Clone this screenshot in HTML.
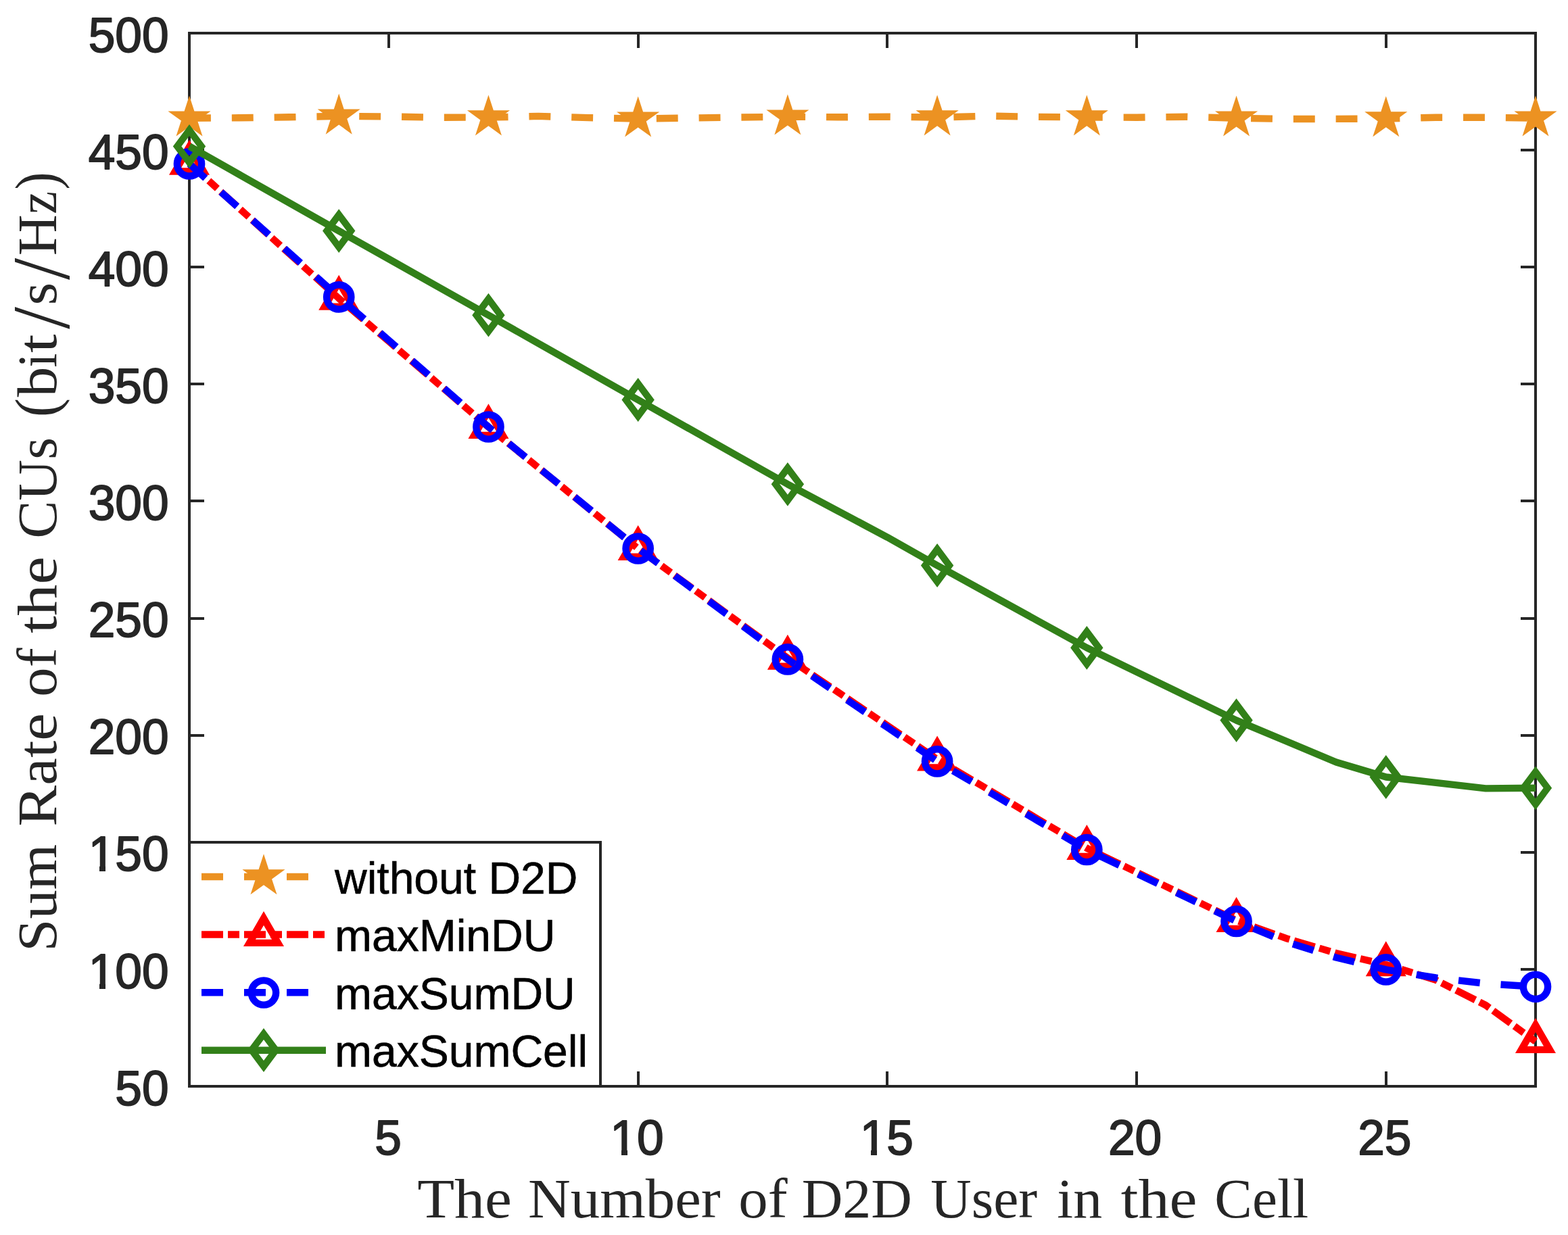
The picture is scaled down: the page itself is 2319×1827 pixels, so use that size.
<!DOCTYPE html>
<html><head><meta charset="utf-8"><title>Sum Rate of the CUs</title>
<style>html,body{margin:0;padding:0;background:#fff;overflow:hidden}svg{display:block}</style>
</head><body>
<svg xmlns="http://www.w3.org/2000/svg" width="2319" height="1827" viewBox="0 0 2319 1827">
<rect x="0" y="0" width="2319" height="1827" fill="#fff"/>
<g stroke="#262626" stroke-width="4" fill="none" stroke-linecap="square">
<rect x="280.0" y="49.0" width="1991.0" height="1558.0" stroke-linecap="butt"/>
<line x1="575.00" y1="1607.0" x2="575.00" y2="1585.0" stroke-linecap="butt"/>
<line x1="575.00" y1="49.0" x2="575.00" y2="71.0" stroke-linecap="butt"/>
<line x1="944.00" y1="1607.0" x2="944.00" y2="1585.0" stroke-linecap="butt"/>
<line x1="944.00" y1="49.0" x2="944.00" y2="71.0" stroke-linecap="butt"/>
<line x1="1312.00" y1="1607.0" x2="1312.00" y2="1585.0" stroke-linecap="butt"/>
<line x1="1312.00" y1="49.0" x2="1312.00" y2="71.0" stroke-linecap="butt"/>
<line x1="1681.00" y1="1607.0" x2="1681.00" y2="1585.0" stroke-linecap="butt"/>
<line x1="1681.00" y1="49.0" x2="1681.00" y2="71.0" stroke-linecap="butt"/>
<line x1="2050.00" y1="1607.0" x2="2050.00" y2="1585.0" stroke-linecap="butt"/>
<line x1="2050.00" y1="49.0" x2="2050.00" y2="71.0" stroke-linecap="butt"/>
<line x1="280.0" y1="1434.00" x2="302.0" y2="1434.00" stroke-linecap="butt"/>
<line x1="2271.0" y1="1434.00" x2="2249.0" y2="1434.00" stroke-linecap="butt"/>
<line x1="280.0" y1="1261.00" x2="302.0" y2="1261.00" stroke-linecap="butt"/>
<line x1="2271.0" y1="1261.00" x2="2249.0" y2="1261.00" stroke-linecap="butt"/>
<line x1="280.0" y1="1088.00" x2="302.0" y2="1088.00" stroke-linecap="butt"/>
<line x1="2271.0" y1="1088.00" x2="2249.0" y2="1088.00" stroke-linecap="butt"/>
<line x1="280.0" y1="915.00" x2="302.0" y2="915.00" stroke-linecap="butt"/>
<line x1="2271.0" y1="915.00" x2="2249.0" y2="915.00" stroke-linecap="butt"/>
<line x1="280.0" y1="741.00" x2="302.0" y2="741.00" stroke-linecap="butt"/>
<line x1="2271.0" y1="741.00" x2="2249.0" y2="741.00" stroke-linecap="butt"/>
<line x1="280.0" y1="568.00" x2="302.0" y2="568.00" stroke-linecap="butt"/>
<line x1="2271.0" y1="568.00" x2="2249.0" y2="568.00" stroke-linecap="butt"/>
<line x1="280.0" y1="395.00" x2="302.0" y2="395.00" stroke-linecap="butt"/>
<line x1="2271.0" y1="395.00" x2="2249.0" y2="395.00" stroke-linecap="butt"/>
<line x1="280.0" y1="222.00" x2="302.0" y2="222.00" stroke-linecap="butt"/>
<line x1="2271.0" y1="222.00" x2="2249.0" y2="222.00" stroke-linecap="butt"/>
</g>
<g font-family="Liberation Sans, Arial, Helvetica, sans-serif" font-size="72.4" fill="#262626" stroke="#262626" stroke-width="1.8" stroke-linejoin="round">
<text transform="translate(249.6,1634.70) scale(0.984,1)" text-anchor="end">50</text>
<text transform="translate(249.6,1461.59) scale(0.984,1)" text-anchor="end">100</text>
<text transform="translate(249.6,1288.48) scale(0.984,1)" text-anchor="end">150</text>
<text transform="translate(249.6,1115.37) scale(0.984,1)" text-anchor="end">200</text>
<text transform="translate(249.6,942.26) scale(0.984,1)" text-anchor="end">250</text>
<text transform="translate(249.6,769.14) scale(0.984,1)" text-anchor="end">300</text>
<text transform="translate(249.6,596.03) scale(0.984,1)" text-anchor="end">350</text>
<text transform="translate(249.6,422.92) scale(0.984,1)" text-anchor="end">400</text>
<text transform="translate(249.6,249.81) scale(0.984,1)" text-anchor="end">450</text>
<text transform="translate(249.6,76.70) scale(0.984,1)" text-anchor="end">500</text>
<text transform="translate(573.96,1708.1) scale(0.984,1)" text-anchor="middle">5</text>
<text transform="translate(941.97,1708.1) scale(0.984,1)" text-anchor="middle">10</text>
<text transform="translate(1311.27,1708.1) scale(0.984,1)" text-anchor="middle">15</text>
<text transform="translate(1678.57,1708.1) scale(0.984,1)" text-anchor="middle">20</text>
<text transform="translate(2047.78,1708.1) scale(0.984,1)" text-anchor="middle">25</text>
</g>
<rect x="134" y="1454" width="13" height="10" fill="#fff"/>
<rect x="156" y="1454" width="13" height="10" fill="#fff"/>
<rect x="134" y="1281" width="13" height="9" fill="#fff"/>
<rect x="156" y="1281" width="13" height="9" fill="#fff"/>
<rect x="906" y="1700" width="13" height="10" fill="#fff"/>
<rect x="928" y="1700" width="13" height="10" fill="#fff"/>
<rect x="1275" y="1700" width="13" height="10" fill="#fff"/>
<rect x="1297" y="1700" width="13" height="10" fill="#fff"/>
<g font-family="Liberation Serif, Times New Roman, serif" font-size="83.5" fill="#262626">
<text transform="translate(617.18,1800.8) scale(1.0756,1)">The</text>
<text transform="translate(780.98,1800.8) scale(1.0405,1)">Number</text>
<text transform="translate(1092.30,1800.8) scale(1.0394,1)">of</text>
<text transform="translate(1185.66,1800.8) scale(1.0060,1)">D2D</text>
<text transform="translate(1376.24,1800.8) scale(1.0017,1)">User</text>
<text transform="translate(1563.30,1800.8) scale(1.0281,1)">in</text>
<text transform="translate(1657.78,1800.8) scale(1.1050,1)">the</text>
<text transform="translate(1796.28,1800.8) scale(0.9985,1)">Cell</text>
<text transform="translate(82.8,1407.81) rotate(-90) scale(1.0382,1)">Sum</text>
<text transform="translate(82.8,1222.65) rotate(-90) scale(1.0947,1)">Rate</text>
<text transform="translate(82.8,1030.69) rotate(-90) scale(1.0379,1)">of</text>
<text transform="translate(82.8,936.93) rotate(-90) scale(1.1152,1)">the</text>
<text transform="translate(82.8,796.86) rotate(-90) scale(1.0096,1)">CUs</text>
<text transform="translate(83.73,617.08) rotate(-90) scale(1.0019,1.0722)">(</text>
<text transform="translate(82.8,587.20) rotate(-90) scale(1.0680,1)">b</text>
<text transform="translate(82.8,543.48) rotate(-90) scale(0.9007,1)">i</text>
<text transform="translate(82.8,521.99) rotate(-90) scale(1.1885,1)">t</text>
<text transform="translate(101.89,486.70) rotate(-90) scale(1.4087,1.4518)">/</text>
<text transform="translate(82.8,451.55) rotate(-90) scale(1.0364,1)">s</text>
<text transform="translate(101.89,413.90) rotate(-90) scale(1.3872,1.4518)">/</text>
<text transform="translate(82.8,378.35) rotate(-90) scale(1.0100,1)">H</text>
<text transform="translate(82.8,316.75) rotate(-90) scale(0.9113,1)">z</text>
<text transform="translate(83.98,280.49) rotate(-90) scale(0.9320,1.0695)">)</text>
</g>
<polyline points="280.00,174.70 353.74,174.30 427.48,173.30 501.22,171.80 574.96,172.50 648.70,173.70 722.44,173.60 796.19,171.90 869.93,174.10 943.67,175.70 1017.41,174.60 1091.15,173.50 1164.89,172.70 1238.63,173.30 1312.37,172.70 1386.11,173.60 1459.85,171.60 1533.59,172.80 1607.33,173.60 1681.07,173.70 1754.81,172.70 1828.56,174.70 1902.30,176.00 1976.04,175.90 2049.78,175.50 2123.52,173.70 2197.26,173.80 2271.00,174.70" fill="none" stroke="#EC9222" stroke-width="10.4" stroke-dasharray="31.9 30.91" stroke-linejoin="round"/>
<polygon points="280.00,141.50 287.45,164.44 311.58,164.44 292.06,178.62 299.51,201.56 280.00,187.38 260.49,201.56 267.94,178.62 248.42,164.44 272.55,164.44" fill="#EC9222"/>
<polygon points="501.22,138.60 508.68,161.54 532.80,161.54 513.28,175.72 520.74,198.66 501.22,184.48 481.71,198.66 489.16,175.72 469.65,161.54 493.77,161.54" fill="#EC9222"/>
<polygon points="722.44,140.40 729.90,163.34 754.02,163.34 734.51,177.52 741.96,200.46 722.44,186.28 702.93,200.46 710.38,177.52 690.87,163.34 714.99,163.34" fill="#EC9222"/>
<polygon points="943.67,142.50 951.12,165.44 975.24,165.44 955.73,179.62 963.18,202.56 943.67,188.38 924.15,202.56 931.60,179.62 912.09,165.44 936.21,165.44" fill="#EC9222"/>
<polygon points="1164.89,139.50 1172.34,162.44 1196.46,162.44 1176.95,176.62 1184.40,199.56 1164.89,185.38 1145.37,199.56 1152.83,176.62 1133.31,162.44 1157.43,162.44" fill="#EC9222"/>
<polygon points="1386.11,140.40 1393.57,163.34 1417.69,163.34 1398.17,177.52 1405.63,200.46 1386.11,186.28 1366.60,200.46 1374.05,177.52 1354.54,163.34 1378.66,163.34" fill="#EC9222"/>
<polygon points="1607.33,140.40 1614.79,163.34 1638.91,163.34 1619.40,177.52 1626.85,200.46 1607.33,186.28 1587.82,200.46 1595.27,177.52 1575.76,163.34 1599.88,163.34" fill="#EC9222"/>
<polygon points="1828.56,141.50 1836.01,164.44 1860.13,164.44 1840.62,178.62 1848.07,201.56 1828.56,187.38 1809.04,201.56 1816.49,178.62 1796.98,164.44 1821.10,164.44" fill="#EC9222"/>
<polygon points="2049.78,142.30 2057.23,165.24 2081.35,165.24 2061.84,179.42 2069.29,202.36 2049.78,188.18 2030.26,202.36 2037.72,179.42 2018.20,165.24 2042.32,165.24" fill="#EC9222"/>
<polygon points="2271.00,141.50 2278.45,164.44 2302.58,164.44 2283.06,178.62 2290.51,201.56 2271.00,187.38 2251.49,201.56 2258.94,178.62 2239.42,164.44 2263.55,164.44" fill="#EC9222"/>
<polyline points="280.00,241.40 353.74,308.10 427.48,374.80 501.22,441.50 574.96,504.93 648.70,568.37 722.44,631.80 796.19,691.73 869.93,751.67 943.67,811.60 1017.41,865.57 1091.15,919.53 1164.89,973.50 1238.63,1023.40 1312.37,1073.30 1386.11,1123.20 1459.85,1167.03 1533.59,1210.87 1607.33,1254.70 1681.07,1290.37 1754.81,1326.03 1828.56,1361.70 1902.30,1388.20 1976.04,1410.00 2049.78,1427.00 2123.52,1449.80 2197.26,1487.00 2271.00,1540.70" fill="none" stroke="#FF0000" stroke-width="10.4" stroke-dasharray="31.9 6.98 16.95 6.98" stroke-linejoin="round"/>
<polygon points="280.00,217.15 301.00,253.53 259.00,253.53" fill="none" stroke="#FF0000" stroke-width="10.4" stroke-linejoin="miter"/>
<polygon points="501.22,417.25 522.22,453.62 480.22,453.62" fill="none" stroke="#FF0000" stroke-width="10.4" stroke-linejoin="miter"/>
<polygon points="722.44,607.55 743.45,643.92 701.44,643.92" fill="none" stroke="#FF0000" stroke-width="10.4" stroke-linejoin="miter"/>
<polygon points="943.67,787.35 964.67,823.73 922.67,823.73" fill="none" stroke="#FF0000" stroke-width="10.4" stroke-linejoin="miter"/>
<polygon points="1164.89,949.25 1185.89,985.62 1143.89,985.62" fill="none" stroke="#FF0000" stroke-width="10.4" stroke-linejoin="miter"/>
<polygon points="1386.11,1098.95 1407.11,1135.33 1365.11,1135.33" fill="none" stroke="#FF0000" stroke-width="10.4" stroke-linejoin="miter"/>
<polygon points="1607.33,1230.45 1628.33,1266.83 1586.33,1266.83" fill="none" stroke="#FF0000" stroke-width="10.4" stroke-linejoin="miter"/>
<polygon points="1828.56,1337.45 1849.56,1373.83 1807.55,1373.83" fill="none" stroke="#FF0000" stroke-width="10.4" stroke-linejoin="miter"/>
<polygon points="2049.78,1402.75 2070.78,1439.12 2028.78,1439.12" fill="none" stroke="#FF0000" stroke-width="10.4" stroke-linejoin="miter"/>
<polygon points="2271.00,1516.45 2292.00,1552.83 2250.00,1552.83" fill="none" stroke="#FF0000" stroke-width="10.4" stroke-linejoin="miter"/>
<polyline points="280.00,242.40 353.74,308.07 427.48,373.73 501.22,439.40 574.96,503.43 648.70,567.47 722.44,631.50 796.19,691.50 869.93,751.50 943.67,811.50 1017.41,866.13 1091.15,920.77 1164.89,975.40 1238.63,1025.73 1312.37,1076.07 1386.11,1126.40 1459.85,1169.93 1533.59,1213.47 1607.33,1257.00 1681.07,1292.30 1754.81,1327.60 1828.56,1362.90 1902.30,1393.50 1976.04,1416.50 2049.78,1434.40 2123.52,1446.50 2197.26,1455.00 2271.00,1459.80" fill="none" stroke="#0000FF" stroke-width="10.4" stroke-dasharray="31.9 30.91" stroke-linejoin="round"/>
<circle cx="280.00" cy="242.40" r="18.15" fill="none" stroke="#0000FF" stroke-width="10.4"/>
<circle cx="501.22" cy="439.40" r="18.15" fill="none" stroke="#0000FF" stroke-width="10.4"/>
<circle cx="722.44" cy="631.50" r="18.15" fill="none" stroke="#0000FF" stroke-width="10.4"/>
<circle cx="943.67" cy="811.50" r="18.15" fill="none" stroke="#0000FF" stroke-width="10.4"/>
<circle cx="1164.89" cy="975.40" r="18.15" fill="none" stroke="#0000FF" stroke-width="10.4"/>
<circle cx="1386.11" cy="1126.40" r="18.15" fill="none" stroke="#0000FF" stroke-width="10.4"/>
<circle cx="1607.33" cy="1257.00" r="18.15" fill="none" stroke="#0000FF" stroke-width="10.4"/>
<circle cx="1828.56" cy="1362.90" r="18.15" fill="none" stroke="#0000FF" stroke-width="10.4"/>
<circle cx="2049.78" cy="1434.40" r="18.15" fill="none" stroke="#0000FF" stroke-width="10.4"/>
<circle cx="2271.00" cy="1459.80" r="18.15" fill="none" stroke="#0000FF" stroke-width="10.4"/>
<polyline points="280.00,216.40 353.74,258.13 427.48,299.87 501.22,341.60 574.96,383.13 648.70,424.67 722.44,466.20 796.19,507.97 869.93,549.73 943.67,591.50 1017.41,633.10 1091.15,674.70 1164.89,716.30 1238.63,755.55 1312.37,794.80 1386.11,836.50 1459.85,877.10 1533.59,917.70 1607.33,958.30 1681.07,994.07 1754.81,1029.83 1828.56,1065.60 1902.30,1096.55 1976.04,1127.50 2049.78,1149.50 2123.52,1157.95 2197.26,1166.40 2271.00,1165.80" fill="none" stroke="#328019" stroke-width="10.4" stroke-linejoin="round"/>
<path d="M280.00,184.00 L304.20,216.40 L280.00,248.80 L255.80,216.40 Z M280.00,201.00 L291.60,216.40 L280.00,231.80 L268.40,216.40 Z" fill="#328019" fill-rule="evenodd"/>
<path d="M501.22,309.20 L525.42,341.60 L501.22,374.00 L477.02,341.60 Z M501.22,326.20 L512.82,341.60 L501.22,357.00 L489.62,341.60 Z" fill="#328019" fill-rule="evenodd"/>
<path d="M722.44,433.80 L746.64,466.20 L722.44,498.60 L698.24,466.20 Z M722.44,450.80 L734.04,466.20 L722.44,481.60 L710.84,466.20 Z" fill="#328019" fill-rule="evenodd"/>
<path d="M943.67,559.10 L967.87,591.50 L943.67,623.90 L919.47,591.50 Z M943.67,576.10 L955.27,591.50 L943.67,606.90 L932.07,591.50 Z" fill="#328019" fill-rule="evenodd"/>
<path d="M1164.89,683.90 L1189.09,716.30 L1164.89,748.70 L1140.69,716.30 Z M1164.89,700.90 L1176.49,716.30 L1164.89,731.70 L1153.29,716.30 Z" fill="#328019" fill-rule="evenodd"/>
<path d="M1386.11,804.10 L1410.31,836.50 L1386.11,868.90 L1361.91,836.50 Z M1386.11,821.10 L1397.71,836.50 L1386.11,851.90 L1374.51,836.50 Z" fill="#328019" fill-rule="evenodd"/>
<path d="M1607.33,925.90 L1631.53,958.30 L1607.33,990.70 L1583.13,958.30 Z M1607.33,942.90 L1618.93,958.30 L1607.33,973.70 L1595.73,958.30 Z" fill="#328019" fill-rule="evenodd"/>
<path d="M1828.56,1033.20 L1852.76,1065.60 L1828.56,1098.00 L1804.36,1065.60 Z M1828.56,1050.20 L1840.16,1065.60 L1828.56,1081.00 L1816.96,1065.60 Z" fill="#328019" fill-rule="evenodd"/>
<path d="M2049.78,1117.10 L2073.98,1149.50 L2049.78,1181.90 L2025.58,1149.50 Z M2049.78,1134.10 L2061.38,1149.50 L2049.78,1164.90 L2038.18,1149.50 Z" fill="#328019" fill-rule="evenodd"/>
<path d="M2271.00,1133.40 L2295.20,1165.80 L2271.00,1198.20 L2246.80,1165.80 Z M2271.00,1150.40 L2282.60,1165.80 L2271.00,1181.20 L2259.40,1165.80 Z" fill="#328019" fill-rule="evenodd"/>
<rect x="280" y="1246" width="608" height="361" fill="#fff" stroke="#262626" stroke-width="4"/>
<line x1="298" y1="1297" x2="482" y2="1297" stroke="#EC9222" stroke-width="10.4" stroke-dasharray="32 31"/>
<polygon points="390.00,1263.30 397.45,1286.24 421.58,1286.24 402.06,1300.42 409.51,1323.36 390.00,1309.18 370.49,1323.36 377.94,1300.42 358.42,1286.24 382.55,1286.24" fill="#EC9222"/>
<line x1="298" y1="1382.5" x2="482" y2="1382.5" stroke="#FF0000" stroke-width="10.4" stroke-dasharray="32 7 17 7"/>
<polygon points="390.00,1358.45 411.00,1394.83 369.00,1394.83" fill="none" stroke="#FF0000" stroke-width="10.4" stroke-linejoin="miter"/>
<line x1="298" y1="1468.3" x2="482" y2="1468.3" stroke="#0000FF" stroke-width="10.4" stroke-dasharray="32 31"/>
<circle cx="390.00" cy="1468.50" r="18.15" fill="none" stroke="#0000FF" stroke-width="10.4"/>
<line x1="298" y1="1553.8" x2="482" y2="1553.8" stroke="#328019" stroke-width="10.4"/>
<path d="M390.00,1521.10 L414.20,1553.50 L390.00,1585.90 L365.80,1553.50 Z M390.00,1538.10 L401.60,1553.50 L390.00,1568.90 L378.40,1553.50 Z" fill="#328019" fill-rule="evenodd"/>
<g font-family="Liberation Sans, Arial, Helvetica, sans-serif" font-size="66" fill="#000" stroke="#000" stroke-width="0.6">
<text x="495" y="1321.7">without D2D</text>
<text x="495" y="1406.5">maxMinDU</text>
<text x="495" y="1492.5">maxSumDU</text>
<text x="495" y="1578.4">maxSumCell</text>
</g>
</svg>
</body></html>
